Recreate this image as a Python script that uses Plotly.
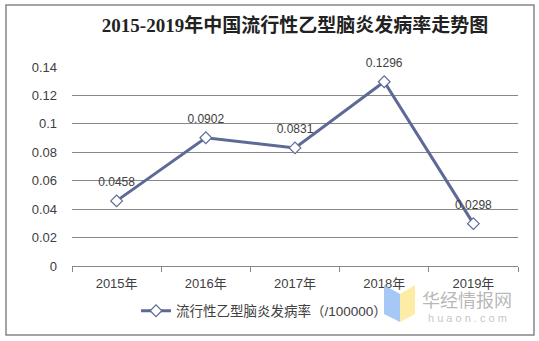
import plotly.graph_objects as go

years = ["2015年", "2016年", "2017年", "2018年", "2019年"]
rates = [0.0458, 0.0902, 0.0831, 0.1296, 0.0298]
labels = ["0.0458", "0.0902", "0.0831", "0.1296", "0.0298"]
series_name = "流行性乙型脑炎发病率（/100000）"
title_text = "2015-2019年中国流行性乙型脑炎发病率走势图"

W, H = 539, 341
L, R, T, B = 72, 21, 67, 75
PW, PH = W - L - R, H - T - B

def px(x):
    return (x - L) / PW

def py(y):
    return (H - B - y) / PH

line_color = "#5E6A96"
txt = "#404040"

fig = go.Figure()
fig.add_trace(go.Scatter(
    x=years, y=rates, mode="lines+markers", name=series_name,
    line=dict(color=line_color, width=3),
    marker=dict(symbol="diamond", size=9, color="white",
                line=dict(color=line_color, width=1.2)),
))
fig.add_trace(go.Scatter(
    x=years, y=rates, mode="markers+text", showlegend=False, hoverinfo="skip",
    text=labels, textposition="top center",
    textfont=dict(family="Liberation Sans, Arial", size=12, color=txt),
    marker=dict(size=17, opacity=0),
    cliponaxis=False,
))

shapes = [
    dict(type="rect", xref="paper", yref="paper",
         x0=px(6), x1=px(534), y0=py(335), y1=py(5),
         line=dict(color="#878787", width=1.5), fillcolor="rgba(0,0,0,0)", layer="below"),
    dict(type="path", xref="paper", yref="paper",
         path=f"M {px(384)},{py(285)} L {px(400)},{py(294)} L {px(400)},{py(322)} L {px(384)},{py(314)} Z",
         fillcolor="rgba(150,190,245,0.85)", line=dict(width=0)),
    dict(type="path", xref="paper", yref="paper",
         path=f"M {px(400)},{py(294)} L {px(415)},{py(285)} L {px(415)},{py(314)} L {px(400)},{py(322)} Z",
         fillcolor="rgba(253,233,150,0.85)", line=dict(width=0)),
]

annotations = [
    dict(text="华经情报网", xref="paper", yref="paper", x=px(467), y=py(299),
         xanchor="center", yanchor="middle", showarrow=False,
         font=dict(family="Noto Sans CJK SC", size=18, color="rgba(160,160,160,0.75)")),
    dict(text="h u a o n . c o m", xref="paper", yref="paper", x=px(467), y=py(318),
         xanchor="center", yanchor="middle", showarrow=False,
         font=dict(family="Liberation Sans, Arial", size=11, color="rgba(170,170,170,0.7)")),
]

fig.update_layout(
    width=W, height=H,
    margin=dict(l=L, r=R, t=T, b=B, pad=0),
    paper_bgcolor="white", plot_bgcolor="white",
    title=dict(text=f"<b>{title_text}</b>", x=0.5, xanchor="center", xref="paper",
               y=1 - 25 / H, yanchor="middle", yref="container",
               font=dict(family="Liberation Serif, Noto Sans CJK SC", size=19, color="#222222")),
    showlegend=True,
    legend=dict(orientation="h", x=px(264), y=py(311), xanchor="center", yanchor="middle",
                font=dict(family="Liberation Sans, Noto Sans CJK SC", size=13.5, color=txt),
                bgcolor="rgba(0,0,0,0)"),
    shapes=shapes,
    annotations=annotations,
    xaxis=dict(type="category", range=[-0.5, 4.5], showgrid=False,
               showline=True, linecolor="#878787", linewidth=1,
               ticks="outside", tickson="boundaries", ticklen=5, tickcolor="#878787",
               ticklabelstandoff=5,
               tickfont=dict(family="Liberation Sans, Noto Sans CJK SC", size=13, color=txt)),
    yaxis=dict(range=[0, 0.14], dtick=0.02, tick0=0, showgrid=True,
               gridcolor="#878787", gridwidth=1, zeroline=False, showline=False,
               ticks="", ticklabelstandoff=14,
               tickfont=dict(family="Liberation Sans, Arial", size=13, color=txt)),
)

fig.write_html("out.html")
